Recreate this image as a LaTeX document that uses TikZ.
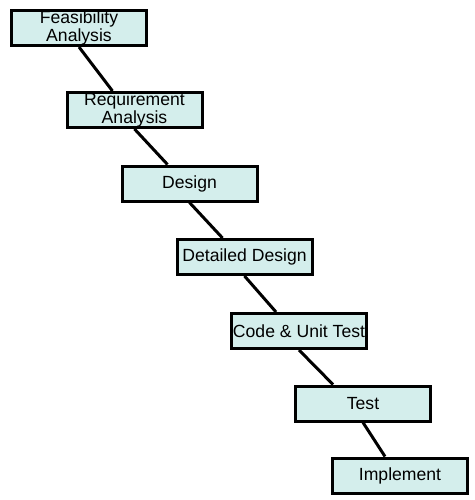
\documentclass[tikz,border=0pt]{standalone}
\usepackage{fontspec}
\setmainfont{Liberation Sans}
\definecolor{stepfill}{RGB}{212,238,236}

\begin{document}
\begin{tikzpicture}[
    x=1pt, y=1pt,
    phase/.style={draw, line width=3pt, fill=stepfill, rectangle,
        minimum width=135pt, minimum height=35pt, inner sep=0pt,
        align=center, font=\fontsize{17.6}{18.5}\selectfont},
    link/.style={line width=3pt}
]
    \useasboundingbox (0,0) rectangle (474,-500);

    \node[phase] (feas)   at (79,-28)    {Feasibility\\Analysis};
    \node[phase] (req)    at (134.5,-110) {Requirement\\Analysis};
    \node[phase] (design) at (189.5,-183.5) {Design};
    \node[phase] (detail) at (244.5,-257) {Detailed Design};
    \node[phase] (code)   at (299,-331)   {Code \& Unit Test};
    \node[phase] (test)   at (363,-403.5) {Test};
    \node[phase] (impl)   at (400,-475.5) {Implement};

    \draw[link] (feas.south)   -- ([xshift=-22pt]req.north);
    \draw[link] (req.south)    -- ([xshift=-22pt]design.north);
    \draw[link] (design.south) -- ([xshift=-22pt]detail.north);
    \draw[link] (detail.south) -- ([xshift=-23pt]code.north);
    \draw[link] (code.south)   -- ([xshift=-30pt]test.north);
    \draw[link] (test.south)   -- ([xshift=-15pt]impl.north);

\end{tikzpicture}
\end{document}
